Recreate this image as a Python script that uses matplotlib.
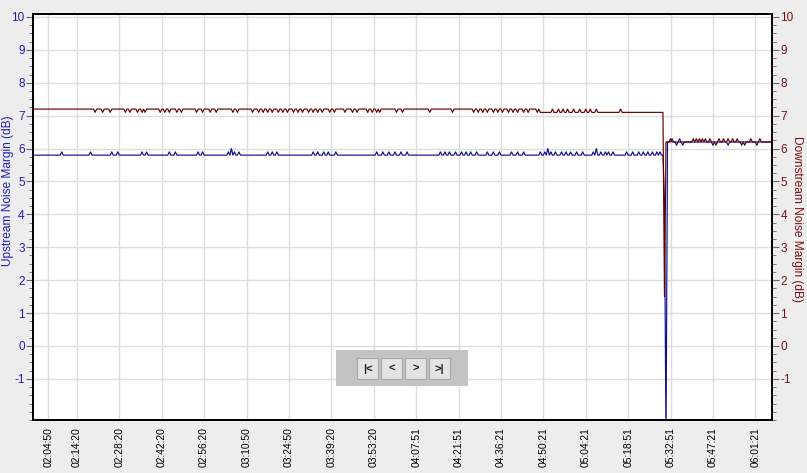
import numpy as np
import matplotlib.pyplot as plt
from matplotlib.patches import Rectangle

W, H = 807, 473
n_pts = 489

# x axis: sample index -> time label
tick_idx = [10, 29, 57, 85, 113, 141, 169, 197, 225, 253, 281, 309, 337, 365, 393, 421, 449, 477]
tick_lbl = ['02:04:50', '02:14:20', '02:28:20', '02:42:20', '02:56:20', '03:10:50',
            '03:24:50', '03:39:20', '03:53:20', '04:07:51', '04:21:51', '04:36:21',
            '04:50:21', '05:04:21', '05:18:51', '05:32:51', '05:47:21', '06:01:21']

# upstream noise margin (dB)
us_before = 5.8
us_after = 6.2
us_change = 419
us_dev_idx = [19, 38, 52, 56, 72, 75, 90, 94, 109, 112, 129, 131, 133, 136,
              155, 158, 161, 185, 188, 192, 195, 200, 227, 231, 235, 239, 243, 247,
              269, 272, 275, 279, 283, 286, 289, 293, 300, 304, 308, 316, 320, 324,
              335, 338, 340, 342, 345, 349, 352, 355, 359, 363, 370, 372, 375, 378,
              380, 383, 392, 396, 400, 403, 406, 409, 412, 414, 417, 418,
              422, 425, 427, 429, 449, 459, 468, 478]
us_dev_val = [5.9, 5.9, 5.9, 5.9, 5.9, 5.9, 5.9, 5.9, 5.9, 5.9, 5.9, 6.0, 5.9, 5.9,
              5.9, 5.9, 5.9, 5.9, 5.9, 5.9, 5.9, 5.9, 5.9, 5.9, 5.9, 5.9, 5.9, 5.9,
              5.9, 5.9, 5.9, 5.9, 5.9, 5.9, 5.9, 5.9, 5.9, 5.9, 5.9, 5.9, 5.9, 5.9,
              5.9, 5.9, 6.0, 5.9, 5.9, 5.9, 5.9, 5.9, 5.9, 5.9, 5.9, 6.0, 5.9, 5.9,
              5.9, 5.9, 5.9, 5.9, 5.9, 5.9, 5.9, 5.9, 5.9, 5.9, 4.4, -3.0,
              6.3, 6.1, 6.3, 6.1, 6.1, 6.1, 6.1, 6.1]

# downstream noise margin (dB)
ds_levels = [7.2, 7.1, 6.2]
ds_starts = [0, 335, 418]
ds_dev_idx = [41, 46, 51, 61, 64, 69, 72, 74, 84, 87, 90, 95, 98, 108, 112, 117, 121,
              132, 135, 145, 149, 152, 155, 158, 162, 165, 168, 172, 175, 178, 182,
              185, 188, 191, 196, 199, 206, 211, 214, 221, 224, 227, 229, 240, 244,
              262, 277, 291, 294, 297, 300, 304, 307, 310, 314, 317, 320, 324, 327, 333,
              343, 347, 350, 353, 357, 361, 365, 368, 372, 388, 417,
              421, 436, 438, 440, 442, 444, 447, 451, 453, 456, 459, 462, 465, 470, 474, 480]
ds_dev_val = [7.1] * 60 + [7.2] * 10 + [1.5] + \
             [6.3, 6.3, 6.3, 6.3, 6.3, 6.3, 6.3, 6.1, 6.3, 6.3, 6.3, 6.3, 6.3, 6.1, 6.3, 6.3]

x = np.arange(n_pts)
us = np.where(x < us_change, us_before, us_after)
us[us_dev_idx] = us_dev_val
ds = np.zeros(n_pts)
for lv, st in zip(ds_levels, ds_starts):
    ds[st:] = lv
ds[ds_dev_idx] = ds_dev_val

up_col = '#1f1fb4'
dn_col = '#7a1010'

plt.rcParams['font.family'] = ['Liberation Sans', 'DejaVu Sans']
plt.rcParams['axes.unicode_minus'] = False
fig = plt.figure(figsize=(W / 100, H / 100), dpi=100, facecolor='#ededed')
ax = fig.add_axes([33 / W, 1 - 420 / H, 739 / W, 406 / H])
ax.set_facecolor('white')
ax2 = ax.twinx()

ax.plot(x, us, color='#101090', lw=0.85)
ax2.plot(x, ds, color='#650000', lw=0.85)

for a in (ax, ax2):
    a.set_xlim(0, 488)
    a.set_ylim(-2.25, 10.09)
    a.set_yticks(range(-1, 11))
    a.set_yticks(np.arange(-2.25, 10.01, 0.25), minor=True)
    for s in a.spines.values():
        s.set_color('black')
        s.set_linewidth(1.4)

ax.set_xticks(tick_idx)
ax.set_xticklabels(tick_lbl, rotation=90, fontsize=7.4)
ax.tick_params(axis='x', length=0, pad=5)
ax.grid(True, color='#dedede', lw=1)
ax.set_axisbelow(True)

ax.tick_params(axis='y', which='major', colors='#606080', labelcolor=up_col,
               length=5, labelsize=8.5, pad=1)
ax.tick_params(axis='y', which='minor', colors='#606080', length=3)
ax2.tick_params(axis='y', which='major', colors='#806060', labelcolor=dn_col,
                length=5, labelsize=8.5, pad=1)
ax2.tick_params(axis='y', which='minor', colors='#806060', length=3)

fig.text(8 / W, 1 - 191 / H, 'Upstream Noise Margin (dB)', rotation=90,
         color=up_col, fontsize=8.6, ha='center', va='center')
fig.text(797 / W, 1 - 219 / H, 'Downstream Noise Margin (dB)', rotation=270,
         color=dn_col, fontsize=8.6, ha='center', va='center')

# navigation box
fig.add_artist(Rectangle((336 / W, 1 - 386 / H), 132 / W, 36 / H,
                         transform=fig.transFigure, facecolor='#c3c3c3', edgecolor='none'))
for bx, txt in zip([357, 381, 405, 429], ['|<', '<', '>', '>|']):
    fig.add_artist(Rectangle((bx / W, 1 - 379 / H), 21 / W, 21 / H,
                             transform=fig.transFigure, facecolor='#e4e4e4',
                             edgecolor='#a8a8a8', lw=0.8))
    fig.text((bx + 10.5) / W, 1 - 368.5 / H, txt, ha='center', va='center',
             fontsize=8, fontweight='bold', color='#202020')

fig.savefig('out.png', dpi=100, facecolor=fig.get_facecolor())
